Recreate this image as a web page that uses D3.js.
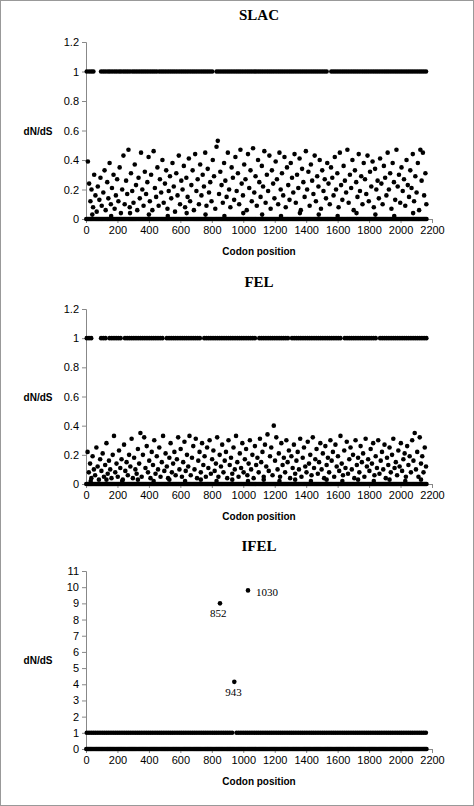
<!DOCTYPE html>
<html><head><meta charset="utf-8">
<script src="https://cdn.jsdelivr.net/npm/d3@7"></script>
<style>body{margin:0;background:#fff}svg{display:block}</style>
</head><body>
<script>
// ---- DATA ----
const panelTitles = ["SLAC", "FEL", "IFEL"];
const xTicks = [0,200,400,600,800,1000,1200,1400,1600,1800,2000,2200];
const yTicksSmall = [0,0.2,0.4,0.6,0.8,1,1.2];
const yTicksIFEL = [0,1,2,3,4,5,6,7,8,9,10,11];
// codons with dN/dS = 1
const onesSLAC = "5 20 34 47 96 110 124 139 152 166 181 195 210 223 238 252 266 280 296 310 324 338 352 366 380 394 408 422 436 450 466 480 494 508 522 536 550 564 578 592 606 620 634 648 662 676 690 704 718 732 746 760 774 788 802 830 844 858 872 886 900 914 928 942 956 970 984 998 1012 1026 1040 1054 1068 1082 1096 1110 1124 1138 1152 1166 1180 1194 1208 1222 1236 1250 1264 1278 1292 1306 1320 1334 1348 1362 1376 1390 1404 1418 1432 1446 1460 1474 1488 1502 1516 1530 1560 1574 1588 1602 1616 1630 1644 1658 1672 1686 1700 1714 1728 1742 1756 1770 1784 1798 1812 1826 1840 1854 1868 1882 1896 1910 1924 1938 1952 1966 1980 1994 2008 2022 2036 2050 2064 2078 2092 2106 2120 2134 2148 2162";
const onesFEL = "5 19 33 96 110 124 150 164 178 192 206 220 248 262 276 290 304 318 332 346 360 374 388 402 416 430 444 458 472 486 514 528 542 556 570 584 598 612 626 640 654 668 682 696 710 724 752 766 780 794 808 822 836 850 864 878 892 906 920 934 948 962 976 990 1004 1018 1032 1046 1060 1074 1102 1116 1130 1144 1158 1172 1186 1200 1214 1228 1242 1256 1270 1284 1310 1324 1338 1352 1366 1380 1394 1408 1422 1436 1450 1464 1478 1492 1506 1520 1534 1548 1562 1576 1590 1604 1618 1646 1660 1674 1688 1702 1716 1730 1744 1758 1772 1786 1800 1814 1828 1842 1870 1884 1898 1912 1926 1940 1954 1968 1982 1996 2010 2024 2038 2052 2066 2080 2094 2108 2122 2136 2150 2164";
const onesIFEL = "5 19 33 47 61 75 89 103 117 131 145 159 173 187 201 215 229 243 257 271 285 299 313 327 341 355 369 383 397 411 425 439 453 467 481 495 509 523 537 551 565 579 593 607 621 635 649 663 677 691 705 719 733 747 761 775 789 803 817 831 845 859 873 887 901 915 929 957 971 985 999 1013 1027 1041 1055 1069 1083 1097 1111 1125 1139 1153 1167 1181 1195 1209 1223 1237 1251 1265 1279 1293 1307 1321 1335 1349 1363 1377 1391 1405 1419 1433 1447 1461 1475 1489 1503 1517 1531 1545 1559 1573 1587 1601 1615 1629 1643 1657 1671 1685 1699 1713 1727 1741 1755 1769 1783 1797 1811 1825 1839 1853 1867 1881 1895 1909 1923 1937 1951 1965 1979 1993 2007 2021 2035 2049 2063 2077 2091 2105 2119 2133 2147 2161";
// codons with dN/dS ~ 0 (dense baseline)
const zeros = "2 9 16 23 30 37 44 51 58 65 72 79 86 93 100 107 114 121 128 135 142 149 156 163 170 177 184 191 198 205 212 219 226 233 240 247 254 261 268 275 282 289 296 303 310 317 324 331 338 345 352 359 366 373 380 387 394 401 408 415 422 429 436 443 450 457 464 471 478 485 492 499 506 513 520 527 534 541 548 555 562 569 576 583 590 597 604 611 618 625 632 639 646 653 660 667 674 681 688 695 702 709 716 723 730 737 744 751 758 765 772 779 786 793 800 807 814 821 828 835 842 849 856 863 870 877 884 891 898 905 912 919 926 933 940 947 954 961 968 975 982 989 996 1003 1010 1017 1024 1031 1038 1045 1052 1059 1066 1073 1080 1087 1094 1101 1108 1115 1122 1129 1136 1143 1150 1157 1164 1171 1178 1185 1192 1199 1206 1213 1220 1227 1234 1241 1248 1255 1262 1269 1276 1283 1290 1297 1304 1311 1318 1325 1332 1339 1346 1353 1360 1367 1374 1381 1388 1395 1402 1409 1416 1423 1430 1437 1444 1451 1458 1465 1472 1479 1486 1493 1500 1507 1514 1521 1528 1535 1542 1549 1556 1563 1570 1577 1584 1591 1598 1605 1612 1619 1626 1633 1640 1647 1654 1661 1668 1675 1682 1689 1696 1703 1710 1717 1724 1731 1738 1745 1752 1759 1766 1773 1780 1787 1794 1801 1808 1815 1822 1829 1836 1843 1850 1857 1864 1871 1878 1885 1892 1899 1906 1913 1920 1927 1934 1941 1948 1955 1962 1969 1976 1983 1990 1997 2004 2011 2018 2025 2032 2039 2046 2053 2060 2067 2074 2081 2088 2095 2102 2109 2116 2123 2130 2137 2144 2151 2158 2165";
// scattered points: codon,value
const scatSLAC = "12,0.39 20,0.24 28,0.12 35,0.2 45,0.08 52,0.3 60,0.16 68,0.05 75,0.22 85,0.13 92,0.28 100,0.09 110,0.18 118,0.33 125,0.06 135,0.25 142,0.14 150,0.38 158,0.1 165,0.21 175,0.3 182,0.07 190,0.16 198,0.27 206,0.12 214,0.35 222,0.04 230,0.2 238,0.43 246,0.1 255,0.26 262,0.17 270,0.47 278,0.08 286,0.31 294,0.19 302,0.11 310,0.37 318,0.23 326,0.06 334,0.28 342,0.14 350,0.45 358,0.2 366,0.09 374,0.32 382,0.17 390,0.25 398,0.42 406,0.12 414,0.3 422,0.06 430,0.46 438,0.21 446,0.15 454,0.35 462,0.09 470,0.27 478,0.18 486,0.4 494,0.11 502,0.24 510,0.33 518,0.07 526,0.19 534,0.29 542,0.14 550,0.38 558,0.22 566,0.05 574,0.31 582,0.16 590,0.43 598,0.1 606,0.26 614,0.2 622,0.36 630,0.08 638,0.28 646,0.15 654,0.41 662,0.12 670,0.23 678,0.33 686,0.06 694,0.44 702,0.19 710,0.27 718,0.1 726,0.37 734,0.16 742,0.3 750,0.22 758,0.45 766,0.09 774,0.34 782,0.18 790,0.25 798,0.12 806,0.4 814,0.29 822,0.07 830,0.49 838,0.53 846,0.17 854,0.32 862,0.23 870,0.11 878,0.38 886,0.26 894,0.15 902,0.45 910,0.2 918,0.08 926,0.35 934,0.28 942,0.13 950,0.42 958,0.19 966,0.31 974,0.1 982,0.47 990,0.24 998,0.16 1006,0.37 1014,0.27 1022,0.06 1030,0.44 1038,0.21 1046,0.33 1054,0.12 1062,0.48 1070,0.18 1078,0.29 1086,0.09 1094,0.4 1102,0.25 1110,0.15 1118,0.36 1126,0.22 1134,0.46 1142,0.11 1150,0.3 1158,0.19 1166,0.43 1174,0.07 1182,0.33 1190,0.24 1198,0.14 1206,0.39 1214,0.27 1222,0.1 1230,0.45 1238,0.2 1246,0.31 1254,0.16 1262,0.42 1270,0.08 1278,0.35 1286,0.23 1294,0.13 1302,0.38 1310,0.28 1318,0.18 1326,0.44 1334,0.11 1342,0.3 1350,0.21 1358,0.41 1366,0.06 1374,0.34 1382,0.25 1390,0.15 1398,0.46 1406,0.2 1414,0.32 1422,0.09 1430,0.37 1438,0.26 1446,0.17 1454,0.43 1462,0.12 1470,0.29 1478,0.22 1486,0.4 1494,0.07 1502,0.33 1510,0.19 1518,0.27 1526,0.14 1534,0.38 1542,0.24 1550,0.1 1558,0.35 1566,0.28 1574,0.16 1582,0.42 1590,0.2 1598,0.31 1606,0.08 1614,0.45 1622,0.23 1630,0.13 1638,0.36 1646,0.26 1654,0.18 1662,0.47 1670,0.11 1678,0.3 1686,0.21 1694,0.4 1702,0.06 1710,0.33 1718,0.25 1726,0.15 1734,0.44 1742,0.19 1750,0.29 1758,0.1 1766,0.38 1774,0.27 1782,0.17 1790,0.43 1798,0.12 1806,0.32 1814,0.22 1822,0.39 1830,0.08 1838,0.34 1846,0.2 1854,0.26 1862,0.14 1870,0.41 1878,0.24 1886,0.1 1894,0.36 1902,0.28 1910,0.16 1918,0.45 1926,0.2 1934,0.31 1942,0.07 1950,0.38 1958,0.25 1966,0.13 1974,0.47 1982,0.22 1990,0.3 1998,0.11 2006,0.35 2014,0.19 2022,0.27 2030,0.09 2038,0.4 2046,0.23 2054,0.15 2062,0.33 2070,0.21 2078,0.44 2086,0.12 2094,0.29 2102,0.18 2110,0.38 2118,0.06 2126,0.47 2134,0.26 2142,0.45 2150,0.16 2158,0.31 2164,0.1 40,0.03 160,0.02 280,0.04 400,0.03 520,0.02 640,0.04 760,0.03 880,0.02 1000,0.04 1120,0.03 1240,0.02 1360,0.04 1480,0.03 1600,0.02 1720,0.04 1840,0.03 1960,0.02 2080,0.04";
const scatFEL = "10,0.22 18,0.08 26,0.14 34,0.04 42,0.19 50,0.1 58,0.06 66,0.25 74,0.12 82,0.03 90,0.17 98,0.09 106,0.21 114,0.05 122,0.13 130,0.28 138,0.07 146,0.16 154,0.1 162,0.04 170,0.2 178,0.33 186,0.08 194,0.14 202,0.05 210,0.23 218,0.11 226,0.17 234,0.03 242,0.27 250,0.09 258,0.15 266,0.06 274,0.2 282,0.12 290,0.31 298,0.04 306,0.18 314,0.1 322,0.07 330,0.24 338,0.14 346,0.35 354,0.05 362,0.2 370,0.32 378,0.11 386,0.26 394,0.08 402,0.16 410,0.04 418,0.22 426,0.13 434,0.3 442,0.07 450,0.19 458,0.1 466,0.25 474,0.05 482,0.15 490,0.33 498,0.09 506,0.21 514,0.12 522,0.04 530,0.18 538,0.28 546,0.08 554,0.14 562,0.22 570,0.06 578,0.17 586,0.32 594,0.1 602,0.24 610,0.05 618,0.15 626,0.29 634,0.09 642,0.2 650,0.12 658,0.33 666,0.06 674,0.18 682,0.26 690,0.1 698,0.31 706,0.04 714,0.16 722,0.22 730,0.08 738,0.28 746,0.13 754,0.19 762,0.05 770,0.25 778,0.11 786,0.3 794,0.07 802,0.17 810,0.23 818,0.09 826,0.14 834,0.32 842,0.05 850,0.2 858,0.12 866,0.27 874,0.08 882,0.16 890,0.22 898,0.04 906,0.3 914,0.13 922,0.18 930,0.07 938,0.25 946,0.1 954,0.33 962,0.15 970,0.05 978,0.21 986,0.11 994,0.28 1002,0.08 1010,0.17 1018,0.24 1026,0.06 1034,0.14 1042,0.3 1050,0.1 1058,0.2 1066,0.04 1074,0.26 1082,0.13 1090,0.18 1098,0.08 1106,0.31 1114,0.15 1122,0.22 1130,0.05 1138,0.27 1146,0.12 1154,0.34 1162,0.09 1170,0.19 1178,0.25 1186,0.06 1194,0.4 1202,0.16 1210,0.32 1218,0.1 1226,0.21 1234,0.05 1242,0.28 1250,0.13 1258,0.18 1266,0.08 1274,0.3 1282,0.15 1290,0.23 1298,0.04 1306,0.19 1314,0.11 1322,0.27 1330,0.07 1338,0.16 1346,0.22 1354,0.1 1362,0.31 1370,0.05 1378,0.18 1386,0.25 1394,0.12 1402,0.08 1410,0.29 1418,0.14 1426,0.2 1434,0.06 1442,0.32 1450,0.11 1458,0.17 1466,0.24 1474,0.07 1482,0.15 1490,0.28 1498,0.1 1506,0.21 1514,0.04 1522,0.26 1530,0.13 1538,0.18 1546,0.08 1554,0.3 1562,0.16 1570,0.22 1578,0.05 1586,0.27 1594,0.12 1602,0.19 1610,0.09 1618,0.33 1626,0.14 1634,0.06 1642,0.23 1650,0.11 1658,0.29 1666,0.07 1674,0.17 1682,0.25 1690,0.1 1698,0.2 1706,0.04 1714,0.3 1722,0.13 1730,0.18 1738,0.08 1746,0.26 1754,0.15 1762,0.21 1770,0.05 1778,0.31 1786,0.12 1794,0.17 1802,0.09 1810,0.24 1818,0.14 1826,0.28 1834,0.06 1842,0.19 1850,0.11 1858,0.3 1866,0.07 1874,0.16 1882,0.22 1890,0.1 1898,0.27 1906,0.04 1914,0.18 1922,0.13 1930,0.25 1938,0.08 1946,0.2 1954,0.31 1962,0.11 1970,0.15 1978,0.06 1986,0.23 1994,0.12 2002,0.28 2010,0.09 2018,0.17 2026,0.21 2034,0.05 2042,0.26 2050,0.13 2058,0.19 2066,0.08 2074,0.3 2082,0.16 2090,0.35 2098,0.1 2106,0.22 2114,0.05 2122,0.32 2130,0.14 2138,0.19 2146,0.08 2154,0.25 2162,0.12 30,0.02 130,0.03 230,0.02 330,0.03 430,0.02 530,0.03 630,0.02 730,0.03 830,0.02 930,0.03 1030,0.02 1130,0.03 1230,0.02 1330,0.03 1430,0.02 1530,0.03 1630,0.02 1730,0.03 1830,0.02 1930,0.03 2030,0.02 2130,0.03";
const scatIFEL = "852,9.0 943,4.15 1030,9.8";
const labelsIFEL = ["852","943","1030"];

const parseList = s => s.trim().split(/\s+/).map(Number);
const parsePairs = s => s.trim().split(/\s+/).map(p => p.split(",").map(Number));

// ---- DRAW ----
const W = 474, H = 806;
const svg = d3.select("body").append("svg").attr("width", W).attr("height", H);
svg.append("rect").attr("x",0.5).attr("y",0.5).attr("width",W-1).attr("height",H-1)
  .attr("fill","#fff").attr("stroke","#999");

const x = d3.scaleLinear().domain([0,2200]).range([86,432]);

const panels = [
  {title:panelTitles[0], top:42, bottom:219, ymax:1.2, ticks:yTicksSmall, ones:onesSLAC, scat:scatSLAC, titleY:20},
  {title:panelTitles[1], top:309, bottom:484, ymax:1.2, ticks:yTicksSmall, ones:onesFEL, scat:scatFEL, titleY:287},
  {title:panelTitles[2], top:571, bottom:749, ymax:11, ticks:yTicksIFEL, ones:onesIFEL, scat:scatIFEL, titleY:551, labels:true}
];

panels.forEach(p => {
  const y = d3.scaleLinear().domain([0,p.ymax]).range([p.bottom,p.top]);
  const g = svg.append("g");
  g.append("text").attr("x",259).attr("y",p.titleY).attr("text-anchor","middle")
    .attr("font-family","Liberation Serif").attr("font-weight","bold").attr("font-size",15).text(p.title);
  const ya = g.append("g").attr("transform",`translate(86,0)`)
    .call(d3.axisLeft(y).tickValues(p.ticks).tickSize(4).tickFormat(d3.format("~g")));
  const xa = g.append("g").attr("transform",`translate(0,${p.bottom})`)
    .call(d3.axisBottom(x).tickValues(xTicks).tickSize(4).tickFormat(d3.format("d")));
  [ya,xa].forEach(a => {
    a.selectAll("path,line").attr("stroke","#888");
    a.selectAll("text").attr("font-family","Liberation Sans").attr("font-size",11).attr("fill","#000");
  });
  g.append("text").attr("x",38).attr("y",(p.top+p.bottom)/2+4).attr("text-anchor","middle")
    .attr("font-family","Liberation Sans").attr("font-weight","bold").attr("font-size",10).text("dN/dS");
  g.append("text").attr("x",259).attr("y",p.bottom+36).attr("text-anchor","middle")
    .attr("font-family","Liberation Sans").attr("font-weight","bold").attr("font-size",10).text("Codon position");
  const pts = [];
  parseList(p.ones).forEach(c => pts.push([c,1]));
  parseList(zeros).forEach(c => pts.push([c,0]));
  parsePairs(p.scat).forEach(d => pts.push(d));
  g.selectAll("circle.pt").data(pts).join("circle").attr("class","pt")
    .attr("cx",d=>x(d[0])).attr("cy",d=>y(d[1])).attr("r",2.3).attr("fill","#000");
  if (p.labels) {
    const pr = parsePairs(p.scat);
    const offs = [[-10,14],[-9,14],[8,6]];
    pr.forEach((d,i)=> g.append("text").attr("x",x(d[0])+offs[i][0]).attr("y",y(d[1])+offs[i][1])
      .attr("font-family","Liberation Serif").attr("font-size",11).text(labelsIFEL[i]));
  }
});
</script>
</body></html>
